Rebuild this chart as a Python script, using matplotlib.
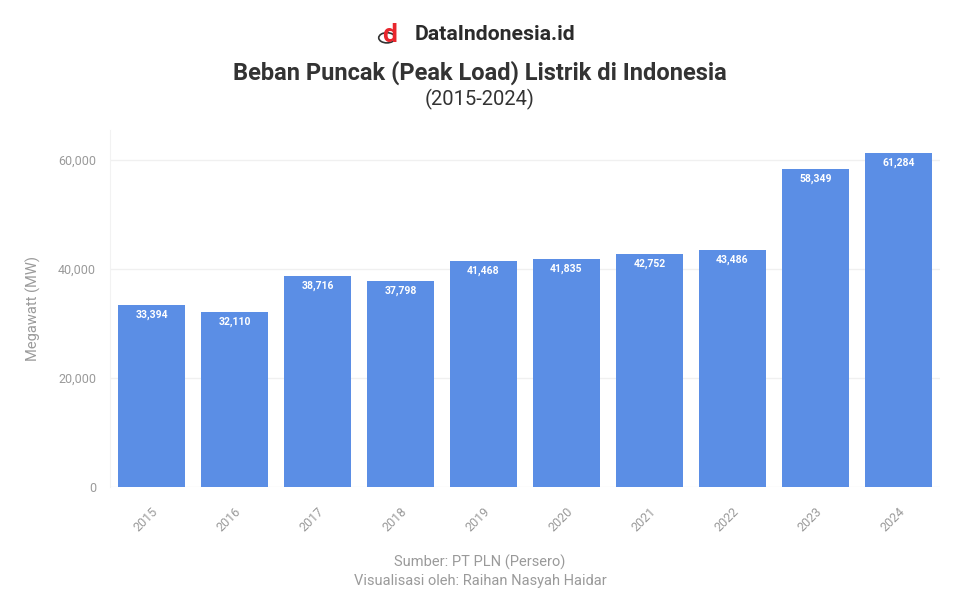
import matplotlib.pyplot as plt
from matplotlib.patches import Circle

# data
tahun = ['2015', '2016', '2017', '2018', '2019', '2020', '2021', '2022', '2023', '2024']
beban = [33394, 32110, 38716, 37798, 41468, 41835, 42752, 43486, 58349, 61284]
yticks = [0, 20000, 40000, 60000]

plt.rcParams['font.family'] = ['Roboto', 'DejaVu Sans']

fig = plt.figure(figsize=(9.6, 6), dpi=100)
ax = fig.add_axes([0.1146, 0.1883, 0.8644, 0.5947])

x = range(len(tahun))
bars = ax.bar(x, beban, width=0.8, color='#5b8ee5', zorder=3)
for b, v in zip(bars, beban):
    ax.text(b.get_x() + b.get_width() / 2, v - 900, f'{v:,}', ha='center', va='top',
            color='white', fontsize=7.5, fontweight='bold', zorder=4)

ax.set_xlim(-0.5, len(tahun) - 0.5)
ax.set_ylim(0, 65500)
ax.set_yticks(yticks)
ax.set_yticklabels([f'{t:,}' for t in yticks], color='#9a9a9a', fontsize=9)
ax.set_xticks(list(x))
ax.set_xticklabels(tahun, rotation=45, ha='right', rotation_mode='anchor',
                   color='#9a9a9a', fontsize=9)
ax.tick_params(length=0, pad=10)
ax.tick_params(axis='x', pad=13)
ax.grid(axis='y', color='#f0f0f0', linewidth=1, zorder=0)
for s in ['top', 'right', 'bottom']:
    ax.spines[s].set_visible(False)
ax.spines['left'].set_color('#f2f2f2')
ax.set_ylabel('Megawatt (MW)', color='#9a9a9a', fontsize=10.5, labelpad=12)

# header
fig.text(0.432, 0.942, 'DataIndonesia.id', fontsize=15.3, fontweight='bold',
         color='#2b2b2b', va='center', ha='left')
fig.text(0.406, 0.942, 'd', fontsize=19, fontweight='bold', color='#e8262d',
         va='center', ha='center')
fig.patches.append(Circle((0.403, 0.937), 0.0085, transform=fig.transFigure,
                          facecolor='white', edgecolor='#333333', lw=1.2))
fig.text(0.5, 0.878, 'Beban Puncak (Peak Load) Listrik di Indonesia', fontsize=17,
         fontweight='bold', color='#333333', ha='center', va='center')
fig.text(0.5, 0.835, '(2015-2024)', fontsize=14.5, color='#333333', ha='center', va='center')

# footer
fig.text(0.5, 0.063, 'Sumber: PT PLN (Persero)', fontsize=10.5, color='#9a9a9a',
         ha='center', va='center')
fig.text(0.5, 0.032, 'Visualisasi oleh: Raihan Nasyah Haidar', fontsize=10.5, color='#9a9a9a',
         ha='center', va='center')

fig.savefig('out.png', dpi=100, facecolor='white')
